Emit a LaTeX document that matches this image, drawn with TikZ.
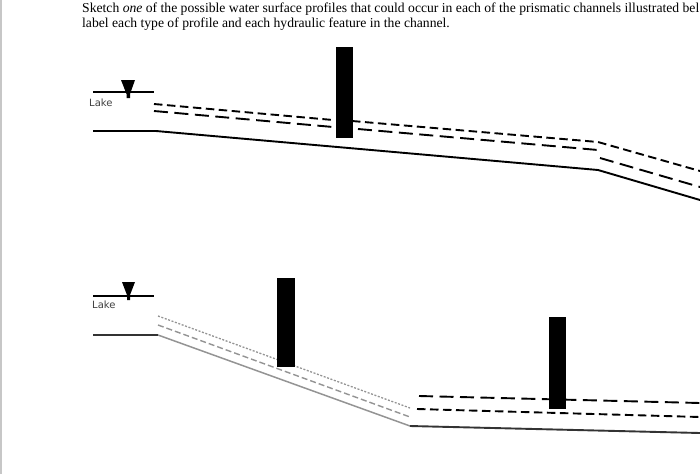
\documentclass[tikz,border=0pt]{standalone}
\usepackage{fontspec}
\setmainfont{Liberation Serif}
\setsansfont{DejaVu Sans}
\definecolor{greyline}{gray}{0.58}
\definecolor{darkline}{gray}{0.2}
\tikzset{
  x=1pt,y=-1pt,
  bedline/.style={line width=1.9pt,black},
  wsline/.style={line width=1.9pt,black},
  longdash/.style={wsline,dash pattern=on 14pt off 6.5pt},
  shortdash/.style={wsline,dash pattern=on 8.5pt off 4.5pt},
  greydot/.style={line width=1.3pt,greyline,dash pattern=on 2pt off 1.6pt},
  greydash/.style={line width=1.4pt,greyline,dash pattern=on 6pt off 3pt},
  gatebar/.style={fill=black,draw=none,inner sep=0pt,anchor=north west},
  lakelabel/.style={font=\sffamily\fontsize{10}{11}\selectfont,text=black!75,inner sep=0pt,anchor=west},
  qtext/.style={font=\fontsize{13.65}{15}\selectfont,inner sep=0pt,anchor=base west},
}
\begin{document}
\begin{tikzpicture}
\useasboundingbox (0,0) rectangle (700,474);
\clip (0,0) rectangle (700,474);
\fill[white] (0,0) rectangle (700,474);
\fill[black!22] (0,0) rectangle (2,474);
\node[qtext] (q1) at (82,12) {Sketch \textit{one} of the possible water surface profiles that could occur in each of the prismatic channels illustrated bel};
\node[qtext] (q2) at (82,27) {label each type of profile and each hydraulic feature in the channel.};
% top channel
\draw[bedline] (93,92) -- (154,92);
\fill[black] (121,80) -- (135,80) -- (130,94) -- (130,98) -- (126.5,98) -- (126.5,94) -- cycle;
\node[lakelabel] (lake1) at (89,103) {Lake};
\draw[bedline,line join=round] (93,131) -- (156,131) -- (598,170) -- (700,200);
\draw[shortdash] (154,104) -- (333,120);
\draw[longdash] (154,111) -- (333,127);
\draw[shortdash] (352,121) -- (598,142) -- (700,171);
\draw[longdash] (358,129) -- (598,150);
\draw[longdash] (600,158) -- (700,187);
\node[gatebar,minimum width=17pt,minimum height=91pt] (g1) at (336,47) {};
% bottom channel
\draw[bedline] (93,296) -- (154,296);
\fill[black] (122,282) -- (135,282) -- (130,295) -- (130,300) -- (127,300) -- (127,295) -- cycle;
\node[lakelabel] (lake2) at (92,305) {Lake};
\draw[line width=1.5pt,greyline] (158,335) -- (410,426);
\draw[bedline,darkline] (93,335) -- (158,335);
\draw[bedline,darkline] (410,426) -- (700,433);
\draw[greydot] (158,316) -- (410,408);
\draw[greydash] (158,325) -- (410,417);
\draw[longdash] (419,396) -- (700,403);
\draw[shortdash] (417,409) -- (700,417);
\node[gatebar,minimum width=17.5pt,minimum height=89pt] (g2) at (277,278) {};
\node[gatebar,minimum width=16.5pt,minimum height=92pt] (g3) at (549,317) {};
\end{tikzpicture}
\end{document}
